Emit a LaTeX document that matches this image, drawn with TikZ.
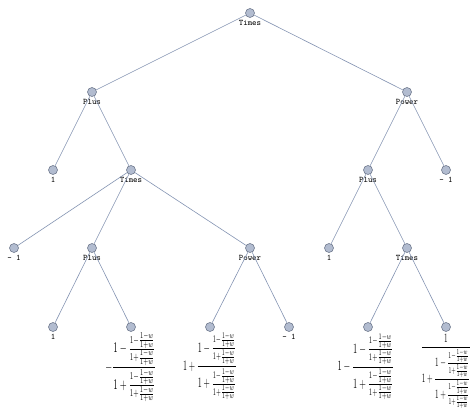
\documentclass[tikz,border=0pt]{standalone}
\usepackage{amsmath}
\usepackage{graphicx}
\usepackage{tikz}
\usetikzlibrary{positioning}
\DeclareMathSizes{10}{10}{7}{6}
\definecolor{vertfill}{RGB}{178,188,208}
\definecolor{vertline}{RGB}{112,122,142}
\definecolor{edgecol}{RGB}{132,148,178}
\tikzset{
  vertex/.style={circle,draw=vertline,fill=vertfill,minimum size=9pt,inner sep=0pt,line width=0.6pt},
  lbl/.style={font=\fontsize{8.5}{9}\selectfont\ttfamily,inner sep=0pt},
  expr/.style={inner sep=0pt},
  edge/.style={draw=edgecol,line width=0.6pt}
}
\newcommand{\wfrac}{\frac{1-w}{1+w}}
\newcommand{\vfrac}{\frac{1-\wfrac}{1+\wfrac}}
\newcommand{\ufrac}{\dfrac{1-\vfrac}{1+\vfrac}}

\begin{document}
\begin{tikzpicture}[x=1pt,y=1pt,node distance=2.5pt]
  \useasboundingbox (0,0) rectangle (474,413);
  % level 0
  \node[vertex] (times) at (250,400) {};
  \node[lbl,below=of times] (timesL) {Times};
  % level 1
  \node[vertex] (plus) at (92,321) {};
  \node[lbl,below=of plus] (plusL) {Plus};
  \node[vertex] (power) at (407,321) {};
  \node[lbl,below=of power] (powerL) {Power};
  % level 2
  \node[vertex] (one) at (53,243) {};
  \node[lbl,below=of one] (oneL) {1};
  \node[vertex] (timesB) at (131,243) {};
  \node[lbl,below=of timesB] (timesBL) {Times};
  \node[vertex] (plusB) at (368,243) {};
  \node[lbl,below=of plusB] (plusBL) {Plus};
  \node[vertex] (minusB) at (446,243) {};
  \node[lbl,below=of minusB] (minusBL) {- 1};
  % level 3
  \node[vertex] (minusC) at (14,165) {};
  \node[lbl,below=of minusC] (minusCL) {- 1};
  \node[vertex] (plusC) at (92,165) {};
  \node[lbl,below=of plusC] (plusCL) {Plus};
  \node[vertex] (powerC) at (250,165) {};
  \node[lbl,below=of powerC] (powerCL) {Power};
  \node[vertex] (oneC) at (329,165) {};
  \node[lbl,below=of oneC] (oneCL) {1};
  \node[vertex] (timesC) at (407,165) {};
  \node[lbl,below=of timesC] (timesCL) {Times};
  % level 4
  \node[vertex] (oneD) at (53,86) {};
  \node[lbl,below=of oneD] (oneDL) {1};
  \node[vertex] (leafA) at (131,86) {};
  \node[expr,below=1pt of leafA] (leafAL)
    {\resizebox*{51pt}{69pt}{$-\ufrac$}};
  \node[vertex] (leafB) at (210,86) {};
  \node[expr,below=1pt of leafB] (leafBL)
    {\resizebox*{54pt}{67pt}{$1+\ufrac$}};
  \node[vertex] (minusD) at (289,86) {};
  \node[lbl,below=of minusD] (minusDL) {- 1};
  \node[vertex] (leafC) at (368,86) {};
  \node[expr,below=2pt of leafC,xshift=-2pt] (leafCL)
    {\resizebox*{57pt}{66pt}{$1-\ufrac$}};
  \node[vertex] (leafD) at (446,86) {};
  \node[expr,below=2pt of leafD] (leafDL)
    {\resizebox*{50pt}{75pt}{$\dfrac{1}{1+\ufrac}$}};
  \draw[edge] (times)--(plus);
  \draw[edge] (times)--(power);
  \draw[edge] (plus)--(one);
  \draw[edge] (plus)--(timesB);
  \draw[edge] (power)--(plusB);
  \draw[edge] (power)--(minusB);
  \draw[edge] (timesB)--(minusC);
  \draw[edge] (timesB)--(plusC);
  \draw[edge] (timesB)--(powerC);
  \draw[edge] (plusB)--(oneC);
  \draw[edge] (plusB)--(timesC);
  \draw[edge] (plusC)--(oneD);
  \draw[edge] (plusC)--(leafA);
  \draw[edge] (powerC)--(leafB);
  \draw[edge] (powerC)--(minusD);
  \draw[edge] (timesC)--(leafC);
  \draw[edge] (timesC)--(leafD);
\end{tikzpicture}
\end{document}
